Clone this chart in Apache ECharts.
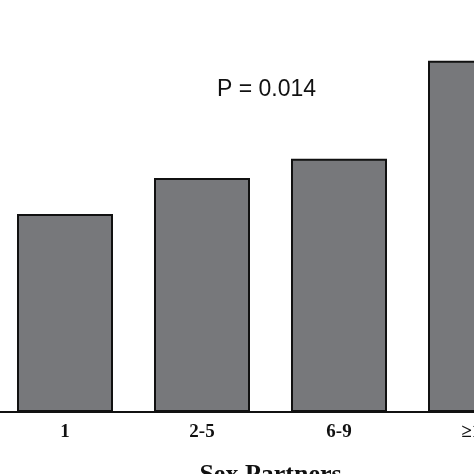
<!DOCTYPE html>
<html><head><meta charset="utf-8">
<script src="https://cdn.jsdelivr.net/npm/echarts@6/dist/echarts.min.js"></script>
<style>html,body{margin:0;padding:0;background:#fff}#c{width:474px;height:474px}</style>
</head><body><div id="c"></div>
<script>
const categories = ["1", "2-5", "6-9", "≥10"];
const values = [49.5, 58.5, 63.3, 87.8];
const pText = "P = 0.014";
const chart = echarts.init(document.getElementById('c'));
chart.setOption({
  animation: false,
  grid: {left: -3.5, width: 548, top: 12, height: 400, containLabel: false, outerBoundsMode: 'none'},
  xAxis: {
    type: 'category', data: categories,
    axisLine: {lineStyle: {color: '#111', width: 2}},
    axisTick: {alignWithLabel: true, length: 4, lineStyle: {color: '#111', width: 1.5}},
    axisLabel: {color: '#111', fontFamily: 'Liberation Serif', fontWeight: 'bold', fontSize: 19, margin: 11},
    name: 'Sex Partners', nameLocation: 'middle', nameGap: 50,
    nameTextStyle: {color: '#111', fontFamily: 'Liberation Serif', fontWeight: 'bold', fontSize: 26}
  },
  yAxis: {type: 'value', min: 0, max: 100, show: false},
  series: [{
    type: 'bar', data: values, barWidth: 96,
    itemStyle: {color: '#77787b', borderColor: '#111', borderWidth: 2}
  }],
  graphic: [{type: 'text', left: 217, top: 78,
    style: {text: pText, fontFamily: 'Liberation Sans', fontSize: 23, fill: '#111'}}]
});
</script></body></html>
